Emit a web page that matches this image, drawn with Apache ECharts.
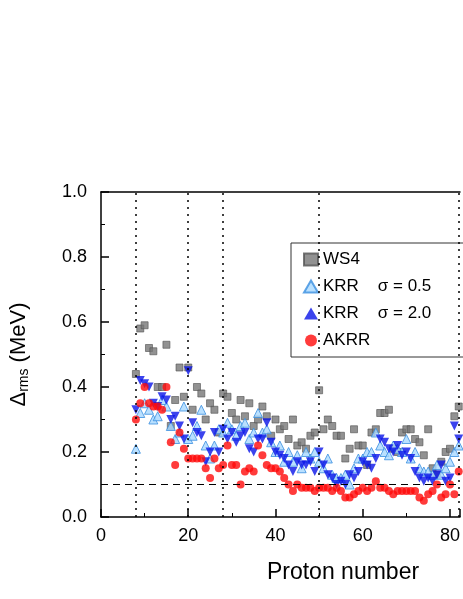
<!DOCTYPE html><html><head><meta charset="utf-8"><script src="https://cdn.jsdelivr.net/npm/echarts@6/dist/echarts.min.js"></script>
<style>html,body{margin:0;padding:0;background:#fff}#c{width:463px;height:599px}</style></head><body><div id="c"></div>
<script>
const Z0 = 8;
const ws4 = [0.44,0.58,0.59,0.52,0.51,0.40,0.40,0.53,0.28,0.36,0.46,0.37,0.46,0.33,0.40,0.38,0.30,0.35,0.33,0.26,0.38,0.37,0.32,0.30,0.36,0.31,0.35,0.28,0.30,0.34,0.31,0.25,0.30,0.27,0.28,0.24,0.30,0.22,0.23,0.21,0.25,0.26,0.39,0.27,0.30,0.28,0.25,0.25,0.18,0.21,0.27,0.22,0.22,0.16,0.26,0.27,0.32,0.32,0.33,0.21,0.20,0.26,0.27,0.27,0.24,0.23,0.19,0.27,0.15,0.13,0.17,0.20,0.21,0.31,0.34];
const krr0 = [0.21,0.32,0.35,0.33,0.30,0.31,0.36,0.34,0.28,0.24,0.26,0.34,0.24,0.25,0.28,0.33,0.22,0.18,0.22,0.27,0.26,0.29,0.27,0.25,0.28,0.29,0.24,0.26,0.32,0.26,0.27,0.23,0.20,0.22,0.17,0.20,0.17,0.19,0.15,0.20,0.18,0.20,0.17,0.15,0.18,0.13,0.12,0.12,0.13,0.10,0.15,0.18,0.18,0.20,0.20,0.26,0.22,0.20,0.19,0.22,0.21,0.20,0.24,0.18,0.20,0.15,0.14,0.14,0.13,0.16,0.13,0.15,0.17,0.20,0.22];
const krr2 = [0.33,0.42,0.41,0.40,0.35,0.34,0.37,0.36,0.30,0.31,0.28,0.24,0.45,0.29,0.26,0.25,0.17,0.20,0.26,0.20,0.27,0.24,0.26,0.23,0.25,0.26,0.21,0.20,0.24,0.24,0.29,0.23,0.20,0.19,0.18,0.16,0.14,0.17,0.16,0.16,0.17,0.14,0.20,0.16,0.13,0.12,0.10,0.11,0.10,0.13,0.12,0.14,0.17,0.16,0.15,0.18,0.24,0.23,0.21,0.20,0.22,0.19,0.20,0.18,0.14,0.12,0.11,0.12,0.11,0.13,0.16,0.11,0.12,0.28,0.24];
const akrr = [0.30,0.35,0.40,0.35,0.34,0.34,0.33,0.40,0.23,0.16,0.26,0.21,0.18,0.18,0.18,0.18,0.15,0.12,0.18,0.15,0.16,0.22,0.16,0.16,0.10,0.14,0.15,0.14,0.22,0.19,0.16,0.15,0.15,0.14,0.12,0.10,0.08,0.10,0.09,0.09,0.09,0.08,0.09,0.09,0.09,0.08,0.09,0.08,0.06,0.06,0.07,0.08,0.09,0.08,0.09,0.11,0.09,0.09,0.08,0.07,0.08,0.08,0.08,0.08,0.08,0.06,0.05,0.07,0.08,0.10,0.06,0.07,0.10,0.07,0.14];
const magic = [8,20,28,50,82];
const names = ['WS4','KRR    σ = 0.5','KRR    σ = 2.0','AKRR'];
const pts = a => a.map((v,i)=>[Z0+i,v]);
const F = 'Liberation Sans, Arial, sans-serif';
const ch = echarts.init(document.getElementById('c'));
ch.setOption({
  animation:false,
  grid:{left:101,top:192,right:0,height:325},
  legend:{orient:'vertical',left:291,top:243,padding:[8,200,8,12],itemGap:10,itemWidth:14,itemHeight:12,
    borderColor:'#333',borderWidth:1,textStyle:{fontFamily:F,fontSize:17,color:'#000'},data:names},
  xAxis:[{type:'value',min:0,max:82.3,interval:20,
    axisLine:{lineStyle:{color:'#000',width:1.5}},axisTick:{inside:true,length:8,lineStyle:{color:'#000',width:1.5}},
    minorTick:{show:true,splitNumber:2,length:4,lineStyle:{color:'#000'}},splitLine:{show:false},
    axisLabel:{fontFamily:F,fontSize:18,color:'#000',margin:10,showMaxLabel:false},
    name:'Proton number',nameLocation:'middle',nameGap:44,nameTextStyle:{fontFamily:F,fontSize:23,color:'#000',padding:[0,0,0,125]}},
   {type:'value',position:'top',min:0,max:82.3,axisLine:{lineStyle:{color:'#000',width:1.5}},axisTick:{show:false},axisLabel:{show:false},splitLine:{show:false}}],
  yAxis:{type:'value',min:0,max:1,interval:0.2,
    axisLine:{show:true,lineStyle:{color:'#000',width:1.5}},axisTick:{inside:true,length:8,lineStyle:{color:'#000',width:1.5}},
    minorTick:{show:true,splitNumber:2,length:4,lineStyle:{color:'#000'}},splitLine:{show:false},
    axisLabel:{fontFamily:F,fontSize:18,color:'#000',margin:14,formatter:v=>v.toFixed(1)},
    name:'{a|Δ}{b|rms}{a| (MeV)}',nameLocation:'middle',nameGap:70,nameRotate:90,
    nameTextStyle:{rich:{a:{fontFamily:F,fontSize:22,color:'#000'},b:{fontFamily:F,fontSize:14,color:'#000',verticalAlign:'bottom',padding:[10,0,0,0]}}}},
  series:[
    {name:names[0],type:'scatter',data:pts(ws4),symbol:'rect',symbolSize:7,itemStyle:{color:'#777',borderColor:'#555',borderWidth:0.8},
     markLine:{silent:true,symbol:'none',label:{show:false},
       data:[...magic.map(m=>({xAxis:m,lineStyle:{type:[2,5],color:'#000',width:1.5}})),{yAxis:0.1,lineStyle:{type:[7,5],color:'#000',width:1.2}}]}},
    {name:names[1],type:'scatter',data:pts(krr0),symbol:'triangle',symbolSize:9,itemStyle:{color:'#a8d8ff',borderColor:'#3a8fe0',borderWidth:1}},
    {name:names[2],type:'scatter',data:pts(krr2),symbol:'triangle',symbolRotate:180,symbolSize:9,itemStyle:{color:'#0a14e8'}},
    {name:names[3],type:'scatter',data:pts(akrr),symbol:'circle',symbolSize:8,itemStyle:{color:'#ff0a0a'}}
  ]
});
</script></body></html>
